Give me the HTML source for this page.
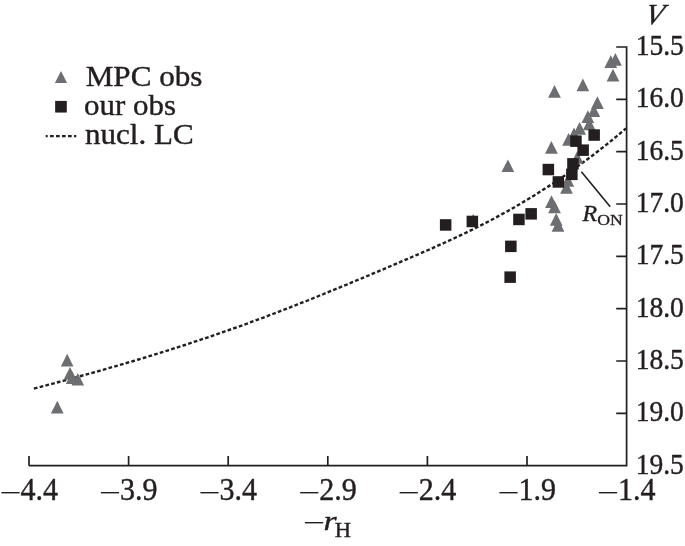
<!DOCTYPE html>
<html><head><meta charset="utf-8"><title>Light curve</title>
<style>
html,body{margin:0;padding:0;background:#fff}
svg{display:block}
text{font-family:"Liberation Serif","DejaVu Serif",serif;fill:#231f20;white-space:pre;stroke:#231f20;stroke-linejoin:round}
.m{stroke:none}
</style></head><body>
<svg width="685" height="546" viewBox="0 0 685 546">
<rect width="685" height="546" fill="#fff"/>
<path d="M33.9 388.6L38.9 387.3L43.9 386.0L48.8 384.7L53.8 383.4L58.8 382.0L63.8 380.7L68.7 379.3L73.7 378.0L78.7 376.6L83.7 375.2L88.6 373.9L93.6 372.5L98.6 371.1L103.6 369.7L108.5 368.2L113.5 366.8L118.5 365.4L123.5 363.9L128.4 362.4L133.4 361.0L138.4 359.5L143.4 358.0L148.3 356.5L153.3 354.9L158.3 353.4L163.3 351.8L168.2 350.3L173.2 348.7L178.2 347.1L183.2 345.5L188.1 343.9L193.1 342.2L198.1 340.6L203.1 338.9L208.0 337.3L213.0 335.6L218.0 333.9L223.0 332.1L227.9 330.4L232.9 328.6L237.9 326.9L242.9 325.1L247.9 323.3L252.8 321.4L257.8 319.6L262.8 317.8L267.8 315.9L272.7 314.0L277.7 312.1L282.7 310.2L287.7 308.3L292.6 306.3L297.6 304.4L302.6 302.4L307.6 300.5L312.5 298.5L317.5 296.5L322.5 294.5L327.5 292.4L332.4 290.4L337.4 288.4L342.4 286.3L347.4 284.3L352.3 282.2L357.3 280.1L362.3 278.1L367.3 276.0L372.2 273.9L377.2 271.8L382.2 269.7L387.2 267.6L392.1 265.5L397.1 263.4L402.1 261.2L407.1 259.1L412.0 257.0L417.0 254.8L422.0 252.7L427.0 250.5L432.0 248.3L436.9 246.1L441.9 243.9L446.9 241.6L451.9 239.3L456.8 237.0L461.8 234.7L466.8 232.3L471.8 229.9L476.7 227.4L481.7 224.9L486.7 222.4L491.7 219.8L496.6 217.1L501.6 214.4L506.6 211.7L511.6 208.9L516.5 206.0L521.5 203.1L526.5 200.1L531.5 197.1L536.4 194.0L541.4 190.9L546.4 187.7L551.4 184.5L556.3 181.2L561.3 177.8L566.3 174.4L571.3 171.0L576.2 167.4L581.2 163.8L586.2 160.2L591.2 156.5L596.1 152.7L601.1 148.8L606.1 144.9L611.1 140.9L616.0 136.8L621.0 132.7L626.0 128.4" fill="none" stroke="#231f20" stroke-width="2.4" stroke-dasharray="3.7 2.25"/>
<g>
<path d="M615.4 53.1L621.8 65.8H609.0Z" fill="#6d6e71"/>
<path d="M610.8 55.3L617.1 68.0H604.4Z" fill="#6d6e71"/>
<path d="M613.0 68.7L619.4 81.4H606.6Z" fill="#6d6e71"/>
<path d="M582.9 78.6L589.2 91.3H576.5Z" fill="#6d6e71"/>
<path d="M554.5 85.0L560.9 97.7H548.1Z" fill="#6d6e71"/>
<path d="M597.4 96.2L603.8 108.9H591.0Z" fill="#6d6e71"/>
<path d="M593.9 104.4L600.2 117.1H587.5Z" fill="#6d6e71"/>
<path d="M587.9 110.3L594.2 123.0H581.5Z" fill="#6d6e71"/>
<path d="M589.2 117.5L595.6 130.2H582.9Z" fill="#6d6e71"/>
<path d="M579.6 122.0L586.0 134.7H573.2Z" fill="#6d6e71"/>
<path d="M574.0 127.5L580.4 140.2H567.6Z" fill="#6d6e71"/>
<path d="M568.6 133.0L575.0 145.7H562.2Z" fill="#6d6e71"/>
<path d="M551.4 141.1L557.8 153.8H545.0Z" fill="#6d6e71"/>
<path d="M507.9 159.4L514.2 172.1H501.5Z" fill="#6d6e71"/>
<path d="M577.2 151.0L583.6 163.7H570.9Z" fill="#6d6e71"/>
<path d="M567.9 174.0L574.2 186.7H561.5Z" fill="#6d6e71"/>
<path d="M566.5 181.1L572.9 193.8H560.1Z" fill="#6d6e71"/>
<path d="M551.5 195.3L557.9 208.0H545.1Z" fill="#6d6e71"/>
<path d="M554.5 200.5L560.9 213.2H548.1Z" fill="#6d6e71"/>
<path d="M556.2 213.0L562.6 225.7H549.9Z" fill="#6d6e71"/>
<path d="M558.0 219.1L564.4 231.8H551.6Z" fill="#6d6e71"/>
<path d="M67.2 353.7L73.5 366.4H60.9Z" fill="#6d6e71"/>
<path d="M70.0 367.0L76.3 379.7H63.6Z" fill="#6d6e71"/>
<path d="M72.2 371.3L78.5 384.0H65.9Z" fill="#6d6e71"/>
<path d="M77.8 372.9L84.1 385.6H71.5Z" fill="#6d6e71"/>
<path d="M57.3 400.7L63.6 413.4H50.9Z" fill="#6d6e71"/>
<path d="M473.2 213.9L474.6 216.5H471.8Z" fill="#6d6e71"/>
</g><g>
<rect x="588.4" y="129.3" width="11.5" height="11.5" fill="#231f20"/>
<rect x="570.2" y="135.4" width="11.5" height="11.5" fill="#231f20"/>
<rect x="577.4" y="144.4" width="11.5" height="11.5" fill="#231f20"/>
<rect x="567.2" y="158.1" width="11.5" height="11.5" fill="#231f20"/>
<rect x="566.1" y="168.6" width="11.5" height="11.5" fill="#231f20"/>
<rect x="542.6" y="163.8" width="11.5" height="11.5" fill="#231f20"/>
<rect x="552.6" y="176.2" width="11.5" height="11.5" fill="#231f20"/>
<rect x="439.9" y="219.2" width="11.5" height="11.5" fill="#231f20"/>
<rect x="466.6" y="215.7" width="11.5" height="11.5" fill="#231f20"/>
<rect x="513.2" y="213.7" width="11.5" height="11.5" fill="#231f20"/>
<rect x="525.4" y="208.1" width="11.5" height="11.5" fill="#231f20"/>
<rect x="505.1" y="240.6" width="11.5" height="11.5" fill="#231f20"/>
<rect x="504.4" y="271.4" width="11.5" height="11.5" fill="#231f20"/>
</g>
<path d="M581.4 171.7L610.2 206.8" stroke="#231f20" stroke-width="1.6" fill="none"/>
<path d="M29.0 465.7H626.6M626.6 46.15V466.55M29.00 465.7v-9.8M128.60 465.7v-9.8M228.20 465.7v-9.8M327.80 465.7v-9.8M427.40 465.7v-9.8M527.00 465.7v-9.8M626.6 47.00h-10.4M626.6 99.34h-10.4M626.6 151.68h-10.4M626.6 204.01h-10.4M626.6 256.35h-10.4M626.6 308.69h-10.4M626.6 361.02h-10.4M626.6 413.36h-10.4" stroke="#231f20" stroke-width="1.7" fill="none"/>
<g>
<g><text transform="matrix(0.3914 0 0 0.2800 -0.36 501.74)" font-size="100" class="m">−</text><text transform="matrix(0.3004 0 0 0.3060 20.40 500.04)" font-size="100" stroke-width="1.32">4.4</text></g>
<g><text transform="matrix(0.3914 0 0 0.2800 99.24 501.74)" font-size="100" class="m">−</text><text transform="matrix(0.3004 0 0 0.3060 120.00 500.04)" font-size="100" stroke-width="1.32">3.9</text></g>
<g><text transform="matrix(0.3914 0 0 0.2800 198.84 501.74)" font-size="100" class="m">−</text><text transform="matrix(0.3004 0 0 0.3060 219.60 500.04)" font-size="100" stroke-width="1.32">3.4</text></g>
<g><text transform="matrix(0.3914 0 0 0.2800 298.44 501.74)" font-size="100" class="m">−</text><text transform="matrix(0.3004 0 0 0.3060 319.20 500.04)" font-size="100" stroke-width="1.32">2.9</text></g>
<g><text transform="matrix(0.3914 0 0 0.2800 398.04 501.74)" font-size="100" class="m">−</text><text transform="matrix(0.3004 0 0 0.3060 418.80 500.04)" font-size="100" stroke-width="1.32">2.4</text></g>
<g><text transform="matrix(0.3914 0 0 0.2800 497.64 501.74)" font-size="100" class="m">−</text><text transform="matrix(0.3004 0 0 0.3060 518.40 500.04)" font-size="100" stroke-width="1.32">1.9</text></g>
<g><text transform="matrix(0.3914 0 0 0.2800 597.24 501.74)" font-size="100" class="m">−</text><text transform="matrix(0.3004 0 0 0.3060 618.00 500.04)" font-size="100" stroke-width="1.32">1.4</text></g>
</g>
<g>
<text transform="matrix(0.2753 0 0 0.2970 635.72 54.85)" font-size="100" stroke-width="1.40">15.5</text>
<text transform="matrix(0.2753 0 0 0.2970 635.72 107.19)" font-size="100" stroke-width="1.40">16.0</text>
<text transform="matrix(0.2753 0 0 0.2970 635.72 159.53)" font-size="100" stroke-width="1.40">16.5</text>
<text transform="matrix(0.2753 0 0 0.2970 635.72 211.87)" font-size="100" stroke-width="1.40">17.0</text>
<text transform="matrix(0.2753 0 0 0.2970 635.72 264.20)" font-size="100" stroke-width="1.40">17.5</text>
<text transform="matrix(0.2753 0 0 0.2970 635.72 316.54)" font-size="100" stroke-width="1.40">18.0</text>
<text transform="matrix(0.2753 0 0 0.2970 635.72 368.88)" font-size="100" stroke-width="1.40">18.5</text>
<text transform="matrix(0.2753 0 0 0.2970 635.72 421.22)" font-size="100" stroke-width="1.40">19.0</text>
<text transform="matrix(0.2753 0 0 0.2970 635.72 473.55)" font-size="100" stroke-width="1.40">19.5</text>
</g>
<text transform="matrix(0.2985 0 0 0.2910 643.68 23.66) skewX(-12)" font-size="100" font-style="italic" stroke-width="1.36">V</text>
<g>
<text transform="matrix(0.3935 0 0 0.2800 303.13 532.34)" font-size="100" class="m">−</text>
<text transform="matrix(0.3371 0 0 0.2731 323.45 530.44)" font-size="100" font-style="italic" stroke-width="1.32">r</text>
<text transform="matrix(0.2256 0 0 0.2122 334.82 536.50)" font-size="100" stroke-width="1.83">H</text>
</g>
<g>
<text transform="matrix(0.2383 0 0 0.2385 582.52 220.80)" font-size="100" font-style="italic" stroke-width="1.68">R</text>
<text transform="matrix(0.1768 0 0 0.1538 597.19 225.00)" font-size="100" stroke-width="2.43">ON</text>
</g>
<path d="M61.0 71.0L67.1 83.1H54.9Z" fill="#6d6e71"/>
<rect x="55.15" y="100.9" width="11.65" height="11.65" fill="#231f20"/>
<path d="M45.7 136.1H76.3" stroke="#231f20" stroke-width="2.4" stroke-dasharray="3.7 2.3" stroke-dashoffset="1.7" fill="none"/>
<text transform="matrix(0.3115 0 0 0.2923 85.67 85.60)" font-size="100" stroke-width="1.33">MPC obs</text>
<text transform="matrix(0.3095 0 0 0.2923 84.06 114.70)" font-size="100" stroke-width="1.33">our obs</text>
<text transform="matrix(0.3108 0 0 0.2923 84.92 143.60)" font-size="100" stroke-width="1.33">nucl. LC</text>
</svg></body></html>
